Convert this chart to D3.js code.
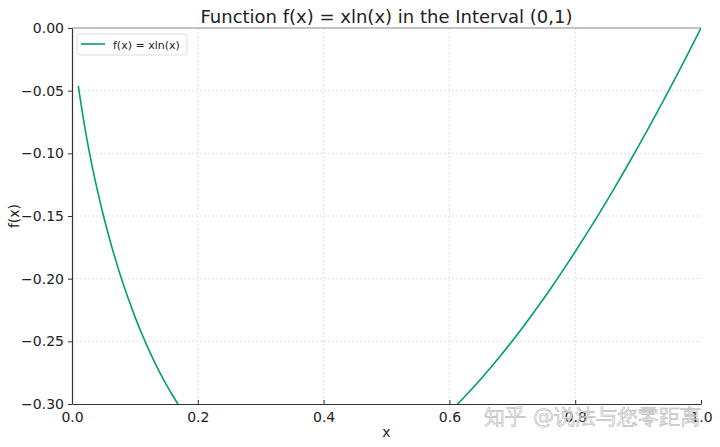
<!DOCTYPE html>
<html>
<head>
<meta charset="utf-8">
<script src="https://cdn.jsdelivr.net/npm/d3@7"></script>
<style>
  body { margin: 0; background: #fff; }
  text { font-family: "DejaVu Sans", sans-serif; fill: #222; }
</style>
</head>
<body>
<div id="chart-area"></div>
<script>

// Data (x, f(x))
let xValues = [0.01, 0.02, 0.03, 0.04, 0.05, 0.06, 0.07, 0.08, 0.09, 0.10,
               0.11, 0.12, 0.13, 0.14, 0.15, 0.16, 0.17, 0.18, 0.20, 0.25,
               0.30, 0.35, 0.40, 0.45, 0.50, 0.55, 0.60, 0.61, 0.62, 0.64,
               0.66, 0.68, 0.70, 0.72, 0.74, 0.76, 0.78, 0.80, 0.82, 0.84,
               0.86, 0.88, 0.90, 0.92, 0.94, 0.96, 0.98, 1.00];
let yValues = [-0.0461, -0.0782, -0.1052, -0.1288, -0.1498, -0.1688, -0.1862, -0.2021, -0.2167, -0.2303,
               -0.2428, -0.2544, -0.2652, -0.2753, -0.2846, -0.2932, -0.3012, -0.3087, -0.3219, -0.3466,
               -0.3612, -0.3674, -0.3665, -0.3593, -0.3466, -0.3288, -0.3065, -0.3015, -0.2964, -0.2856,
               -0.2742, -0.2623, -0.2497, -0.2365, -0.2228, -0.2086, -0.1938, -0.1785, -0.1627, -0.1465,
               -0.1297, -0.1125, -0.0948, -0.0767, -0.0582, -0.0392, -0.0198, 0.0000];
let xTicks = [0.0, 0.2, 0.4, 0.6, 0.8, 1.0];
let yTicks = [0.00, -0.05, -0.10, -0.15, -0.20, -0.25, -0.30];
let seriesName = "f(x) = xln(x)";
let titleText = "Function f(x) = xln(x) in the Interval (0,1)";
let watermark = "知乎 @说法与您零距离";

// SVG drawing area
let margin = {top: 28, right: 19, bottom: 43, left: 72};
let width = 720 - margin.left - margin.right,
    height = 447 - margin.top - margin.bottom;

let root = d3.select("#chart-area").append("svg")
    .attr("width", 720)
    .attr("height", 447);

let svg = root.append("g")
    .attr("transform", "translate(" + margin.left + "," + margin.top + ")");

// Scales
let x = d3.scaleLinear().domain([0, 1]).range([0, width]);
let y = d3.scaleLinear().domain([-0.3, 0]).range([height, 0]);

// Grid
svg.append("g").selectAll("line.gx")
    .data(xTicks.slice(1, -1))
    .enter().append("line")
    .attr("x1", d => x(d)).attr("x2", d => x(d))
    .attr("y1", 0).attr("y2", height)
    .attr("stroke", "#d4d4d4").attr("stroke-width", 0.8)
    .attr("stroke-dasharray", "2,2");
svg.append("g").selectAll("line.gy")
    .data(yTicks.slice(1, -1))
    .enter().append("line")
    .attr("x1", 0).attr("x2", width)
    .attr("y1", d => y(d)).attr("y2", d => y(d))
    .attr("stroke", "#d4d4d4").attr("stroke-width", 0.8)
    .attr("stroke-dasharray", "2,2");

// Line
svg.append("clipPath").attr("id", "clip")
    .append("rect").attr("width", width).attr("height", height);

let points = xValues.map((v, i) => [v, yValues[i]]);
let line = d3.line()
    .x(d => x(d[0]))
    .y(d => y(d[1]))
    .curve(d3.curveCatmullRom);

svg.append("path")
    .datum(points)
    .attr("clip-path", "url(#clip)")
    .attr("fill", "none")
    .attr("stroke", "#029e73")
    .attr("stroke-width", 1.6)
    .attr("d", line);

// Spines
svg.append("line").attr("x1", 0).attr("x2", width).attr("y1", 0).attr("y2", 0)
    .attr("stroke", "#888").attr("stroke-width", 1);

// Axes
let xAxis = d3.axisBottom(x).tickValues(xTicks).tickFormat(d3.format(".1f"))
    .tickSizeInner(-4).tickSizeOuter(0).tickPadding(8);
let yAxis = d3.axisLeft(y).tickValues(yTicks).tickFormat(d => d3.format(".2f")(d).replace("-", "\u2212"))
    .tickSizeInner(4).tickSizeOuter(0).tickPadding(4);

let xGroup = svg.append("g").attr("class", "axis x-axis")
    .attr("transform", "translate(0," + height + ")")
    .call(xAxis);
let yGroup = svg.append("g").attr("class", "axis y-axis")
    .call(yAxis);

[xGroup, yGroup].forEach(g => {
  g.select(".domain").attr("stroke", "#333").attr("stroke-width", 1.2);
  g.selectAll(".tick line").attr("stroke", "#333");
  g.selectAll(".tick text").attr("font-size", 14).attr("fill", "#222")
    .attr("font-family", "DejaVu Sans");
});

// Labels
root.append("text").attr("x", margin.left + width / 2).attr("y", 23)
    .attr("text-anchor", "middle").attr("font-size", 18)
    .text(titleText);
root.append("text").attr("x", margin.left + width / 2).attr("y", 437)
    .attr("text-anchor", "middle").attr("font-size", 14)
    .text("x");
root.append("text")
    .attr("transform", "translate(19," + (margin.top + height / 2) + ") rotate(-90)")
    .attr("text-anchor", "middle").attr("font-size", 14)
    .text("f(x)");

// Legend
let legend = svg.append("g").attr("transform", "translate(5,6)");
legend.append("rect").attr("width", 110).attr("height", 21).attr("rx", 3)
    .attr("fill", "#fff").attr("fill-opacity", 0.8)
    .attr("stroke", "#ddd");
legend.append("line").attr("x1", 4).attr("x2", 28).attr("y1", 10).attr("y2", 10)
    .attr("stroke", "#029e73").attr("stroke-width", 1.6);
legend.append("text").attr("x", 36).attr("y", 14.5)
    .attr("font-size", 11).text(seriesName);

// Watermark (sits over the x tick labels, as in the source image)
root.append("text").attr("x", 701).attr("y", 424)
    .attr("text-anchor", "end")
    .attr("font-family", "Noto Sans CJK SC")
    .attr("font-size", 21)
    .style("fill", "#efefef").attr("stroke", "#b0b0b0").attr("stroke-width", 0.5)
    .attr("fill-opacity", 0.85)
    .text(watermark);

</script>
</body>
</html>
